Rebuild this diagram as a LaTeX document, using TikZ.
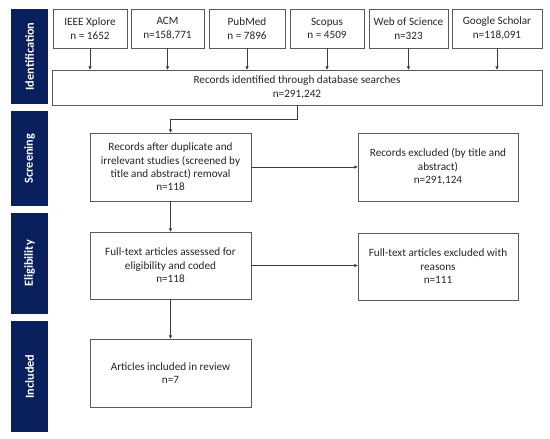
\documentclass[tikz,border=0pt]{standalone}
\usepackage{fontspec}
\setmainfont{Carlito}
\usetikzlibrary{arrows.meta}
\definecolor{navy}{RGB}{10,31,94}
\definecolor{boxline}{RGB}{90,90,90}
\definecolor{conn}{RGB}{60,60,60}
\begin{document}
\begin{tikzpicture}[x=1pt,y=-1pt,
  box/.style={draw=boxline,line width=0.8pt,fill=white,align=center,inner sep=1pt,
    font=\fontsize{11.2}{13.4}\selectfont,text=black!85},
  side/.style={fill=navy,draw=none,minimum width=37pt,inner sep=0pt},
  sidelabel/.style={text=white,font=\fontsize{12.3}{14}\selectfont\bfseries,rotate=90},
  arr/.style={draw=conn,line width=0.7pt,-{Triangle[length=3.2pt,width=3.2pt]}}]
\useasboundingbox (0,0) rectangle (550,439);
% side bars
\node[side,minimum height=95pt] (sId) at (29.5,56.5) {};
\node[sidelabel] at (sId) {Identification};
\node[side,minimum height=95pt] (sSc) at (29.5,158.5) {};
\node[sidelabel] at (sSc) {Screening};
\node[side,minimum height=101pt] (sEl) at (29.5,263.5) {};
\node[sidelabel] at (sEl) {Eligibility};
\node[side,minimum height=111pt] (sIn) at (29.5,376.5) {};
\node[sidelabel] at (sIn) {Included};
% sources
\node[box,minimum width=74pt,minimum height=39pt] (ieee) at (90,28.5) {IEEE Xplore\\n = 1652};
\node[box,minimum width=73pt,minimum height=39pt] (acm) at (167.5,28.5) {ACM\\n=158,771};
\node[box,minimum width=76pt,minimum height=39pt] (pub) at (247,28.5) {PubMed\\n = 7896};
\node[box,minimum width=74pt,minimum height=39pt] (sco) at (327,28.5) {Scopus\\n = 4509};
\node[box,minimum width=79pt,minimum height=39pt] (wos) at (408.5,28.5) {Web of Science\\n=323};
\node[box,minimum width=90pt,minimum height=39pt] (gs) at (497,28.5) {Google Scholar\\n=118,091};
% big box
\node[box,minimum width=490pt,minimum height=35pt] (big) at (297,87.5) {Records identified through database searches\\n=291,242};
% screening
\node[box,minimum width=161pt,minimum height=68pt] (scr) at (170.5,167) {Records after duplicate and\\irrelevant studies (screened by\\title and abstract) removal\\n=118};
\node[box,minimum width=160pt,minimum height=68pt] (ex1) at (438,167) {Records excluded (by title and\\abstract)\\n=291,124};
% eligibility
\node[box,minimum width=161pt,minimum height=67pt] (eli) at (170.5,265.5) {Full-text articles assessed for\\eligibility and coded\\n=118};
\node[box,minimum width=160pt,minimum height=67pt] (ex2) at (438,266.5) {Full-text articles excluded with\\reasons\\n=111};
% included
\node[box,minimum width=161pt,minimum height=68pt] (inc) at (170.5,373) {Articles included in review\\n=7};
% connectors
\foreach \s in {ieee,acm,pub,sco,wos,gs}
  \draw[arr] (\s.south) -- (\s.south |- big.north);
\coordinate (turn) at (170.5,119);
\draw[arr] (big.south) |- (turn) -- (scr.north);
\draw[arr] (scr.east) -- (ex1.west |- scr.east);
\draw[arr] (scr.south) -- (eli.north);
\draw[arr] (eli.east) -- (ex2.west |- eli.east);
\draw[arr] (eli.south) -- (inc.north);
\end{tikzpicture}
\end{document}
